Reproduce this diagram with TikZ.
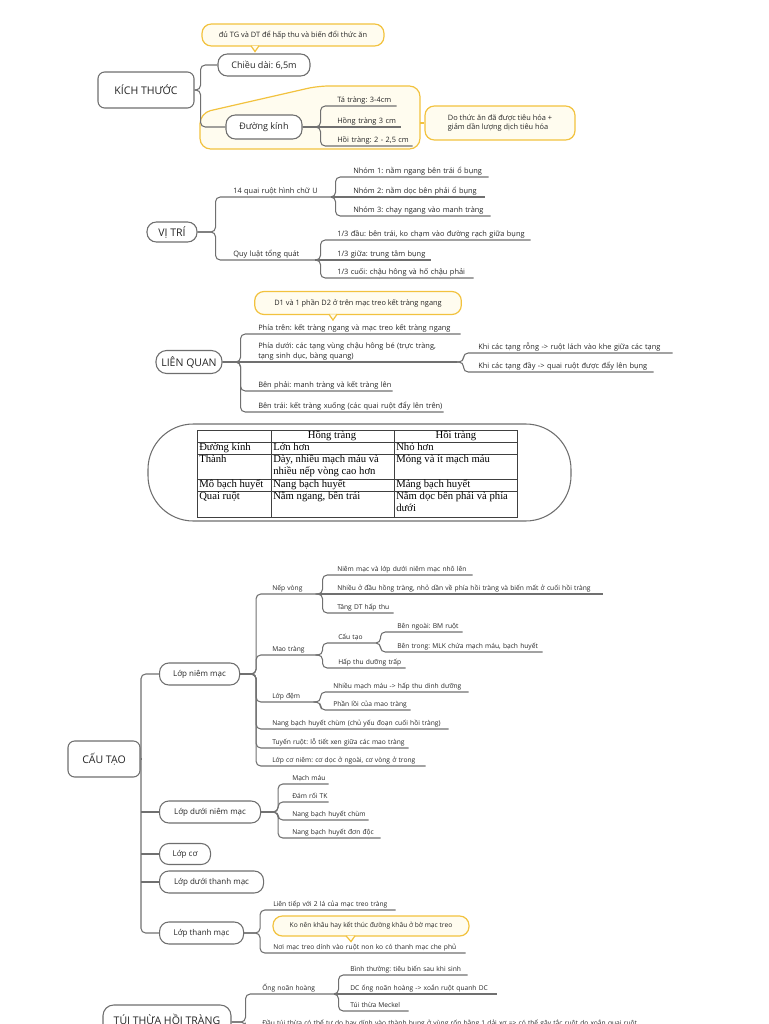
\documentclass[tikz,border=0pt]{standalone}
\usepackage{fontspec}
\setmainfont{Open Sans}
\newfontfamily\tablefont{Liberation Serif}
\usetikzlibrary{calc}
\definecolor{boxgray}{HTML}{6E6E6E}
\definecolor{linegray}{HTML}{707070}
\definecolor{cyellow}{HTML}{F2C23E}
\definecolor{cfill}{HTML}{FFFCEF}
\definecolor{txt}{HTML}{262626}
\newcommand\leafA{\fontsize{5.55}{7}\selectfont}
\newcommand\leafB{\fontsize{5.0}{6.3}\selectfont}
\newcommand\topicfont{\fontsize{7.9}{9}\selectfont}
\newcommand\subAfont{\fontsize{6.8}{8}\selectfont}
\newcommand\subBfont{\fontsize{6.0}{7}\selectfont}
\newcommand\tabfont{\tablefont\fontsize{8}{9}\selectfont}
\newcommand\lf[5]{\pgfmathsetmacro\lfw{(#4-#2)*0.75}\node[leaf,text width=\lfw pt] (#1) at (#2,#3) {\hbox to \lfw pt{#5\hss}};}
\tikzset{
  conn/.style={draw=linegray, line width=0.8pt, rounded corners=3.5pt},
  topic/.style={draw=boxgray, line width=0.8pt, fill=white, font=\topicfont, inner sep=0pt},
  subA/.style={draw=boxgray, line width=0.8pt, fill=white, font=\subAfont, inner sep=0pt, rounded corners=7pt},
  subB/.style={draw=boxgray, line width=0.8pt, fill=white, font=\subBfont, inner sep=0pt, rounded corners=7pt, anchor=west},
  leaf/.style={anchor=south west, inner xsep=0pt, inner ysep=1pt, text depth=1.6pt, font=\leafA, align=left},
  callout/.style={draw=cyellow, fill=cfill, line width=0.9pt, rounded corners=7pt, font=\leafA, inner sep=0pt},
  region/.style={draw=cyellow, fill=cfill, line width=0.9pt, rounded corners=8pt},
  ptr/.style={draw=cyellow, fill=cfill, line width=0.9pt},
  grid/.style={draw=black!75, line width=0.5pt},
  cell/.style={font=\tabfont, anchor=north west, inner sep=0pt, align=left, text=black},
  hcell/.style={font=\tabfont, anchor=north, inner sep=0pt, text=black},
}
\begin{document}
\frenchspacing
\begin{tikzpicture}[x=0.75pt,y=-0.75pt, every node/.append style={text=txt}]
\useasboundingbox (0,0) rectangle (768,1024);
\clip (0,0) rectangle (768,1024);

% ---------------- KICH THUOC
\draw[region] (200,113) -- (318,86) -- (420,86) -- (420,149) -- (200,149) -- cycle;
\node[topic, minimum width=72pt, minimum height=27pt, rounded corners=5pt] (kt) at (146,90) {KÍCH THƯỚC};
\node[subA, minimum width=69pt, minimum height=16.5pt] (cd) at (264,65) {Chiều dài: 6,5m};
\node[subA, minimum width=57pt, minimum height=18pt] (dk) at (264,127) {Đường kính};
\node[callout, minimum width=136.5pt, minimum height=16.5pt] (c1) at (293,35) {đủ TG và DT để hấp thu và biến đổi thức ăn};
\filldraw[ptr] ($(c1.south)+(-42,-0.8)$) -- ($(c1.south)+(-38,5)$) -- ($(c1.south)+(-34,-0.8)$);
\lf{tt}{337}{106}{396}{Tá tràng: 3-4cm}
\lf{ht}{337}{127}{400}{Hồng tràng 3 cm}
\lf{hoi}{337}{146}{412}{Hồi tràng: 2 - 2,5 cm}
\draw[conn] (kt.east) -- ++(6,0) |- (cd.west);
\draw[conn] (kt.east) -- ++(6,0) |- (dk.west);
\draw[conn] (dk.east) -- ++(18,0) |- (tt.south east);
\draw[conn] (dk.east) -- (ht.south east);
\draw[conn] (dk.east) -- ++(18,0) |- (hoi.south east);
\node[callout, minimum width=112.5pt, minimum height=25.5pt, align=left] (c2) at (500,123) {Do thức ăn đã được tiêu hóa +\\giảm dần lượng dịch tiêu hóa};
\draw[cyellow, line width=0.9pt] (420,123) -- (c2.west);

% ---------------- VI TRI
\node[topic, minimum width=37.5pt, minimum height=15pt, rounded corners=7pt] (vt) at (172,232) {VỊ TRÍ};
\lf{q14}{233}{197}{330}{14 quai ruột hình chữ U}
\lf{ql}{233}{260}{314}{Quy luật tổng quát}
\lf{n1}{353}{177}{488}{Nhóm 1: nằm ngang bên trái ổ bụng}
\lf{n2}{353}{197}{484}{Nhóm 2: nằm dọc bên phải ổ bụng}
\lf{n3}{353}{216}{490}{Nhóm 3: chạy ngang vào manh tràng}
\lf{d1}{337}{240}{530}{1/3 đầu: bên trái, ko chạm vào đường rạch giữa bụng}
\lf{d2}{337}{260}{430}{1/3 giữa: trung tâm bụng}
\lf{d3}{337}{278}{473}{1/3 cuối: chậu hông và hố chậu phải}
\draw[conn] (vt.east) -- ++(18,0) |- (q14.south east);
\draw[conn] (vt.east) -- ++(18,0) |- (ql.south east);
\draw[conn] (q14.south east) -- ++(5,0) |- (n1.south east);
\draw[conn] (q14.south east) -- (n2.south east);
\draw[conn] (q14.south east) -- ++(5,0) |- (n3.south east);
\draw[conn] (ql.south east) -- ++(6,0) |- (d1.south east);
\draw[conn] (ql.south east) -- (d2.south east);
\draw[conn] (ql.south east) -- ++(6,0) |- (d3.south east);

% ---------------- LIEN QUAN
\node[topic, minimum width=49.5pt, minimum height=17.25pt, rounded corners=8pt] (lq) at (189,362) {LIÊN QUAN};
\node[callout, minimum width=155pt, minimum height=17.25pt] (c3) at (358,303) {D1 và 1 phần D2 ở trên mạc treo kết tràng ngang};
\filldraw[ptr] ($(c3.south)+(-29,-0.8)$) -- ($(c3.south)+(-25,5)$) -- ($(c3.south)+(-21,-0.8)$);
\lf{pt}{258}{334}{460}{Phía trên: kết tràng ngang và mạc treo kết tràng ngang}
\lf{pd}{258}{362}{456}{\vbox{\hbox{Phía dưới: các tạng vùng chậu hông bé (trực tràng,}\hbox{tạng sinh dục, bàng quang)}}}
\lf{bp}{258}{391}{392}{Bên phải: manh tràng và kết tràng lên}
\lf{bt}{258}{412}{443}{Bên trái: kết tràng xuống (các quai ruột đẩy lên trên)}
\lf{k1}{478}{353}{672}{Khi các tạng rỗng -> ruột lách vào khe giữa các tạng}
\lf{k2}{478}{372}{653}{Khi các tạng đầy -> quai ruột được đẩy lên bụng}
\draw[conn] (lq.east) -- ++(18,0) |- (pt.south east);
\draw[conn] (lq.east) -- (pd.south east);
\draw[conn] (lq.east) -- ++(18,0) |- (bp.south east);
\draw[conn] (lq.east) -- ++(18,0) |- (bt.south east);
\draw[conn] (pd.south east) -- ++(7,0) |- (k1.south east);
\draw[conn] (pd.south east) -- ++(7,0) |- (k2.south east);

% ---------------- TABLE
\draw[draw=boxgray, line width=0.8pt, rounded corners=34pt, fill=white] (148,424) rectangle (571,521);
\draw[grid] (197,430) rectangle (517,517);
\foreach \yy in {442,454,479,491} \draw[grid] (197,\yy) -- (517,\yy);
\foreach \xx in {271,394} \draw[grid] (\xx,430) -- (\xx,517);
\node[hcell] (h2) at (332,430.5) {Hồng tràng};
\node[hcell] (h3) at (456,430.5) {Hồi tràng};
\node[cell] (r1a) at (199,442.5) {Đường kính};
\node[cell] (r1b) at (273,442.5) {Lớn hơn};
\node[cell] (r1c) at (396,442.5) {Nhỏ hơn};
\node[cell] (r2a) at (199,454.5) {Thành};
\node[cell] (r2b) at (273,454.5) {Dày, nhiều mạch máu và\\nhiều nếp vòng cao hơn};
\node[cell] (r2c) at (396,454.5) {Mỏng và ít mạch máu};
\node[cell] (r3a) at (199,479.5) {Mô bạch huyết};
\node[cell] (r3b) at (273,479.5) {Nang bạch huyết};
\node[cell] (r3c) at (396,479.5) {Mảng bạch huyết};
\node[cell] (r4a) at (199,491.5) {Quai ruột};
\node[cell] (r4b) at (273,491.5) {Nằm ngang, bên trái};
\node[cell] (r4c) at (396,491.5) {Nằm dọc bên phải và phía\\dưới};

% ---------------- CAU TAO
\begin{scope}[leaf/.append style={font=\leafB}]
\node[topic, minimum width=54pt, minimum height=27pt, rounded corners=5pt] (ct) at (104,759) {CẤU TẠO};
\node[subB, minimum width=60pt, minimum height=16.5pt] (lnm) at (159,674) {Lớp niêm mạc};
\node[subB, minimum width=75.75pt, minimum height=16.5pt] (ldnm) at (159,812) {Lớp dưới niêm mạc};
\node[subB, minimum width=38.25pt, minimum height=15.75pt] (lc) at (159,854) {Lớp cơ};
\node[subB, minimum width=78pt, minimum height=16.5pt] (ldtm) at (159,882) {Lớp dưới thanh mạc};
\node[subB, minimum width=63pt, minimum height=16.5pt] (ltm) at (159,933) {Lớp thanh mạc};
\coordinate (ctsp) at (141,759);
\draw[conn] (lnm.west) -| (ctsp) |- (ltm.west);
\draw[conn] (ct.east) -- (ctsp);
\draw[conn] (ctsp |- ldnm.west) -- (ldnm.west);
\draw[conn] (ctsp |- lc.west) -- (lc.west);
\draw[conn] (ctsp |- ldtm.west) -- (ldtm.west);

\lf{nv}{272}{594}{318}{Nếp vòng}
\lf{mt}{272}{655}{318}{Mao tràng}
\lf{ld}{272}{702}{316}{Lớp đệm}
\lf{nbh}{272}{729}{448}{Nang bạch huyết chùm (chủ yếu đoạn cuối hồi tràng)}
\lf{tr}{272}{748}{408}{Tuyến ruột: lỗ tiết xen giữa các mao tràng}
\lf{lcn}{272}{766}{425}{Lớp cơ niêm: cơ dọc ở ngoài, cơ vòng ở trong}
\foreach \c in {nv,mt,ld,nbh,tr,lcn} \draw[conn] (lnm.east) -- ++(16,0) |- (\c.south east);

\lf{nv1}{337}{575}{472}{Niêm mạc và lớp dưới niêm mạc nhô lên}
\lf{nv2}{337}{594}{602}{Nhiều ở đầu hồng tràng, nhỏ dần về phía hồi tràng và biến mất ở cuối hồi tràng}
\lf{nv3}{337}{613}{393}{Tăng DT hấp thu}
\draw[conn] (nv.south east) -- ++(4,0) |- (nv1.south east);
\draw[conn] (nv.south east) -- (nv2.south east);
\draw[conn] (nv.south east) -- ++(4,0) |- (nv3.south east);

\lf{ctao}{338}{643}{375}{Cấu tạo}
\lf{htdt}{338}{668}{405}{Hấp thu dưỡng trấp}
\draw[conn] (mt.south east) -- ++(4,0) |- (ctao.south east);
\draw[conn] (mt.south east) -- ++(4,0) |- (htdt.south east);
\lf{bn}{397}{632}{462}{Bên ngoài: BM ruột}
\lf{btr}{397}{652}{542}{Bên trong: MLK chứa mạch máu, bạch huyết}
\draw[conn] (ctao.south east) -- ++(5,0) |- (bn.south east);
\draw[conn] (ctao.south east) -- ++(5,0) |- (btr.south east);

\lf{ld1}{333}{692}{468}{Nhiều mạch máu -> hấp thu dinh dưỡng}
\lf{ld2}{333}{710}{410}{Phần lồi của mao tràng}
\draw[conn] (ld.south east) -- ++(4,0) |- (ld1.south east);
\draw[conn] (ld.south east) -- ++(4,0) |- (ld2.south east);

\lf{m1}{292}{784}{328}{Mạch máu}
\lf{m2}{292}{802}{328}{Đám rối TK}
\lf{m3}{292}{820}{368}{Nang bạch huyết chùm}
\lf{m4}{292}{838}{380}{Nang bạch huyết đơn độc}
\foreach \c in {m1,m2,m3,m4} \draw[conn] (ldnm.east) -- ++(17,0) |- (\c.south east);

\lf{t1}{273}{910}{395}{Liên tiếp với 2 lá của mạc treo tràng}
\lf{t2}{273}{953}{465}{Nơi mạc treo dính vào ruột non ko có thanh mạc che phủ}
\draw[conn] (ltm.east) -- ++(16,0) |- (t1.south east);
\draw[conn] (ltm.east) -- ++(16,0) |- (t2.south east);
\node[callout, font=\leafB, minimum width=147pt, minimum height=15pt] (c4) at (371,926) {Ko nên khâu hay kết thúc đường khâu ở bờ mạc treo};
\filldraw[ptr] ($(c4.south)+(-25,-0.8)$) -- ($(c4.south)+(-20,5)$) -- ($(c4.south)+(-16,-0.8)$);

% ---------------- TUI THUA HOI TRANG
\node[topic, minimum width=96pt, minimum height=25.5pt, rounded corners=8pt] (tth) at (167,1022) {\raisebox{4pt}{TÚI THỪA HỒI TRÀNG}};
\lf{onh}{262}{994}{333}{Ống noãn hoàng}
\lf{dtt}{262}{1029}{682}{Đầu túi thừa có thể tự do hay dính vào thành bụng ở vùng rốn bằng 1 dải xơ => có thể gây tắc ruột do xoắn quai ruột}
\draw[conn] (tth.east) -- ++(14,0) |- (onh.south east);
\draw[conn] (tth.east) -- ++(14,0) |- (dtt.south east);
\lf{o1}{350}{975}{467}{Bình thường: tiêu biến sau khi sinh}
\lf{o2}{350}{994}{496}{DC ống noãn hoàng -> xoắn ruột quanh DC}
\lf{o3}{350}{1011}{408}{Túi thừa Meckel}
\draw[conn] (onh.south east) -- ++(5,0) |- (o1.south east);
\draw[conn] (onh.south east) -- (o2.south east);
\draw[conn] (onh.south east) -- ++(5,0) |- (o3.south east);
\end{scope}
\end{tikzpicture}
\end{document}
